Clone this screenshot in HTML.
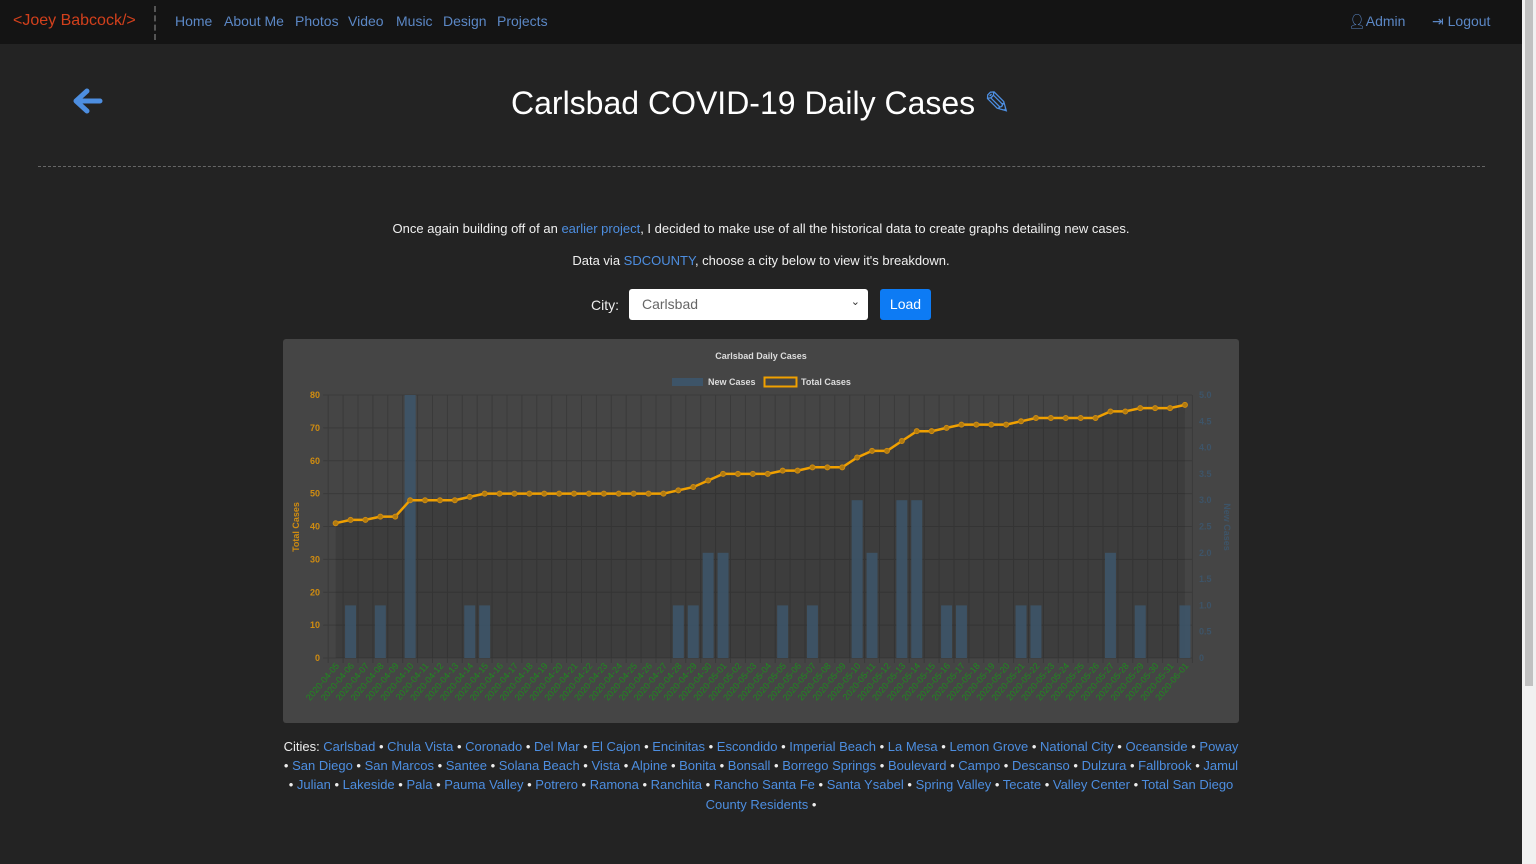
<!DOCTYPE html>
<html><head><meta charset="utf-8"><style>
*{box-sizing:border-box}
body{margin:0;width:1536px;height:864px;background:#232323;font-family:"Liberation Sans",sans-serif;overflow:hidden;position:relative;color:#eee}
.nav{position:absolute;left:0;top:0;width:1522px;height:44px;background:#141414}
.nav span{position:absolute;top:13px;font-size:14px;color:#5b87c5}
.sb{position:absolute;right:0;top:0;width:14px;height:864px;background:#f1f1f1}
.sb div{position:absolute;left:3px;top:0;width:8px;height:686px;background:#c1c1c1}
a{color:#4d8ee0;text-decoration:none}
.p{position:absolute;width:1522px;text-align:center;font-size:13px;color:#f0f0f0}
.cities{position:absolute;left:283px;top:737px;width:956px;text-align:center;font-size:13px;line-height:19.2px;color:#eee}
</style></head><body>
<div class="nav">
<span style="left:13px;color:#d2401c;font-size:16px;top:12px">&lt;Joey Babcock/&gt;</span>
<div style="position:absolute;left:154px;top:6px;height:34px;border-left:2px dashed #555"></div>
<span style="left:175px">Home</span><span style="left:224px">About Me</span><span style="left:295px">Photos</span><span style="left:348px">Video</span><span style="left:396px">Music</span><span style="left:443px">Design</span><span style="left:497px">Projects</span>
<span style="left:1348px">&#x1F464;&#xFE0E;Admin</span><span style="left:1432px">&#x21E5; Logout</span>
</div>
<div class="sb"><div></div></div>
<svg style="position:absolute;left:70px;top:86px" width="36" height="32"><path d="M30 15H8M17 5L6 15L17 25" stroke="#4d8ee0" stroke-width="5" fill="none" stroke-linecap="round" stroke-linejoin="round"/></svg>
<div style="position:absolute;left:511px;top:84px;font-size:32px;color:#fff">Carlsbad COVID-19 Daily Cases <span style="color:#4d8ee0">&#x270E;</span></div>
<div style="position:absolute;left:38px;top:166px;width:1447px;border-top:1px dashed #666"></div>
<div class="p" style="top:221px">Once again building off of an <a>earlier project</a>, I decided to make use of all the historical data to create graphs detailing new cases.</div>
<div class="p" style="top:253px">Data via <a>SDCOUNTY</a>, choose a city below to view it's breakdown.</div>
<div style="position:absolute;left:591px;top:297px;font-size:14px">City:</div>
<div style="position:absolute;left:629px;top:289px;width:239px;height:31px;background:#fff;border-radius:3px;color:#666;font-size:14px;padding:7px 13px">Carlsbad<span style="position:absolute;right:8px;top:6px;font-size:11px;color:#333">&#x2304;</span></div>
<div style="position:absolute;left:880px;top:289px;width:51px;height:31px;background:#0d7bf4;border-radius:3px;color:#fff;font-size:14px;text-align:center;line-height:31px">Load</div>
<div style="position:absolute;left:283px;top:339px;width:956px;height:384px;background:#454545;border-radius:3px"></div>
<svg id="c" style="position:absolute;left:0;top:0" width="1536" height="864"></svg>
<div class="cities">Cities: <a>Carlsbad</a> • <a>Chula Vista</a> • <a>Coronado</a> • <a>Del Mar</a> • <a>El Cajon</a> • <a>Encinitas</a> • <a>Escondido</a> • <a>Imperial Beach</a> • <a>La Mesa</a> • <a>Lemon Grove</a> • <a>National City</a> • <a>Oceanside</a> • <a>Poway</a> • <a>San Diego</a> • <a>San Marcos</a> • <a>Santee</a> • <a>Solana Beach</a> • <a>Vista</a> • <a>Alpine</a> • <a>Bonita</a> • <a>Bonsall</a> • <a>Borrego Springs</a> • <a>Boulevard</a> • <a>Campo</a> • <a>Descanso</a> • <a>Dulzura</a> • <a>Fallbrook</a> • <a>Jamul</a> • <a>Julian</a> • <a>Lakeside</a> • <a>Pala</a> • <a>Pauma Valley</a> • <a>Potrero</a> • <a>Ramona</a> • <a>Ranchita</a> • <a>Rancho Santa Fe</a> • <a>Santa Ysabel</a> • <a>Spring Valley</a> • <a>Tecate</a> • <a>Valley Center</a> • <a>Total San Diego County Residents</a> •</div>
<script>
(function(){
var T=[41,42,42,43,43,48,48,48,48,49,50,50,50,50,50,50,50,50,50,50,50,50,50,51,52,54,56,56,56,56,57,57,58,58,58,61,63,63,66,69,69,70,71,71,71,71,72,73,73,73,73,73,75,75,76,76,76,77];
var B={1:1,3:1,5:5,9:1,10:1,23:1,24:1,25:2,26:2,30:1,32:1,35:3,36:2,38:3,39:3,41:1,42:1,46:1,47:1,52:2,54:1,57:1};
var L=328.2,W=14.9,TP=395,BT=658,s='';
function X(i){return L+W*i+W/2}function Y(v){return BT-v*(BT-TP)/80}
s+='<text x="761" y="359" fill="#ddd" font-size="9" font-weight="bold" text-anchor="middle" font-family="Liberation Sans">Carlsbad Daily Cases</text>';
s+='<rect x="672" y="378" width="31" height="8" fill="#3d5468"/><text x="708" y="385" fill="#ddd" font-size="9" font-weight="bold" font-family="Liberation Sans">New Cases</text>';
s+='<rect x="764.5" y="377.5" width="32" height="9" fill="none" stroke="#f0a000" stroke-width="2"/><text x="801" y="385" fill="#ddd" font-size="9" font-weight="bold" font-family="Liberation Sans">Total Cases</text>';
for(var i=0;i<=58;i++){var x=L+W*i;s+='<line x1="'+x+'" y1="'+TP+'" x2="'+x+'" y2="'+(BT+5)+'" stroke="#3a3a3a"/>';}
for(var v=0;v<=80;v+=10){var y=Y(v);s+='<line x1="'+(L-5)+'" y1="'+y+'" x2="1192" y2="'+y+'" stroke="#3a3a3a"/><text x="320" y="'+(y+3)+'" fill="#d08c10" font-size="9" font-weight="bold" text-anchor="end" font-family="Liberation Sans">'+v+'</text>';}
var rl=['0','0.5','1.0','1.5','2.0','2.5','3.0','3.5','4.0','4.5','5.0'];
for(var k=0;k<=10;k++){s+='<text x="1199" y="'+(BT-k*26.3+3)+'" fill="#3d5468" font-size="9" font-weight="bold" font-family="Liberation Sans">'+rl[k]+'</text>';}
var pts=T.map(function(t,i){return X(i).toFixed(1)+','+Y(t).toFixed(1)}).join(' ');
s+='<polygon points="'+X(0)+','+BT+' '+pts+' '+X(57)+','+BT+'" fill="rgba(0,0,0,0.1)"/>';
for(var j in B){var h=B[j]*52.6;s+='<rect x="'+(X(+j)-5.5)+'" y="'+(BT-h)+'" width="11" height="'+h+'" fill="#3d5468" opacity="0.9"/>';}
s+='<polyline points="'+pts+'" fill="none" stroke="#f0a000" stroke-width="2.5"/>';
T.forEach(function(t,i){s+='<circle cx="'+X(i)+'" cy="'+Y(t)+'" r="2.5" fill="#b07a10" stroke="#d08c10"/>';});
s+='<text transform="translate(299,527) rotate(-90)" fill="#d08c10" font-size="9" font-weight="bold" text-anchor="middle" font-family="Liberation Sans">Total Cases</text>';
s+='<text transform="translate(1224,527) rotate(90)" fill="#3d5468" font-size="9" font-weight="bold" text-anchor="middle" font-family="Liberation Sans">New Cases</text>';
var d=Date.UTC(2020,3,5);
for(var i=0;i<58;i++){var lab=new Date(d+i*864e5).toISOString().slice(0,10);
s+='<text transform="translate('+(X(i)+4)+',666) rotate(-50)" fill="#1f8a1f" font-size="9" text-anchor="end" font-family="Liberation Sans">'+lab+'</text>';}
document.getElementById('c').innerHTML=s;
})();
</script>
</body></html>
